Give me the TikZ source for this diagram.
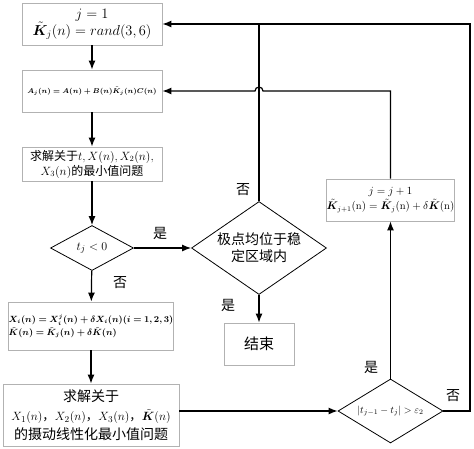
\documentclass[tikz,border=0pt]{standalone}
\usepackage{amsmath}
\usepackage{bm}
\usepackage{fontspec}
\newfontfamily\cjk{Noto Sans CJK SC}
\usetikzlibrary{shapes.geometric, arrows.meta, calc}

\tikzset{
  box/.style={draw=gray!60, line width=0.8pt, inner sep=0pt, align=center},
  decision/.style={diamond, draw=black, line width=0.8pt, inner sep=0pt, align=center},
  flow/.style={line width=1.2pt, -{Latex[length=9pt,width=7pt]}},
  link/.style={line width=1.2pt},
  tag/.style={font=\fontsize{14}{16}\selectfont\cjk}
}

\begin{document}
\begin{tikzpicture}[x=1pt, y=-1pt]
\useasboundingbox (0,0) rectangle (474,448);

% left column
\node[box, minimum width=140pt, minimum height=42pt, font=\fontsize{14.5}{16}\selectfont] (init) at (92,24) {$j = 1$\\$\tilde{\bm K}_j(n) = rand(3,6)$};
\node[box, minimum width=140pt, minimum height=42pt, font=\fontsize{7.5}{10}\selectfont] (sys) at (92,91) {$\bm{A_j(n) = A(n) + B(n)\tilde K_j(n) C(n)}$};
\node[box, minimum width=140pt, minimum height=34pt, font=\fontsize{12}{15}\selectfont] (solve) at (92,164) {{\cjk 求解关于}$t,X(n),X_2(n)$,\\$X_3(n)${\cjk 的最小值问题}};
\node[decision, minimum width=83pt, minimum height=45pt, shape aspect=1.8, font=\fontsize{13}{15}\selectfont] (tneg) at (92,248) {$t_j < 0$};
\node[box, minimum width=158pt, minimum height=48pt, align=left, font=\fontsize{9}{13}\selectfont] (perturb) at (91,326) {$\bm{X_i(n) = X_i^j(n) + \delta X_i(n)(i = 1,2,3)}$\\$\bm{\tilde K(n) = \tilde K_j(n) + \delta \tilde K(n)}$};
\node[box, minimum width=176pt, minimum height=62pt, font=\fontsize{14}{19}\selectfont] (lin) at (91,415) {{\cjk 求解关于}\\{\fontsize{12.5}{19}\selectfont$X_1(n)${\cjk ，}$X_2(n)${\cjk ，}$X_3(n)${\cjk ，}$\tilde{\bm K}(n)$}\\{\cjk 的摄动线性化最小值问题}};

% middle and right
\node[decision, minimum width=135pt, minimum height=93pt, shape aspect=1.45, font=\fontsize{14}{17}\selectfont\cjk] (pole) at (259,248) {极点均位于稳\\定区域内};
\node[box, minimum width=70pt, minimum height=42pt, font=\fontsize{15}{17}\selectfont\cjk] (stop) at (259,344) {结束};
\node[box, minimum width=127pt, minimum height=42pt, font=\fontsize{10.5}{15}\selectfont] (upd) at (390.5,200) {$j = j+1$\\$\tilde{\bm K}_{j+1}(\mathrm{n}) = \tilde{\bm K}_j(\mathrm{n}) + \delta\tilde{\bm K}(\mathrm{n})$};
\node[decision, minimum width=105pt, minimum height=64pt, shape aspect=1.6, font=\fontsize{10}{12}\selectfont] (conv) at (390.5,411) {$\left|t_{j-1} - t_j\right| > \varepsilon_2$};
\coordinate (rail) at (470,200);

% connectors
\draw[flow] (init) -- (sys);
\draw[flow] (sys) -- (solve);
\draw[flow] (solve) -- (tneg);
\draw[flow] (tneg) -- (perturb);
\draw[flow] (perturb) -- (lin);
\draw[flow] (tneg) -- (pole);
\draw[flow] (pole) -- (stop);
\draw[flow] (lin.east |- conv) -- (conv);
\draw[flow] (conv) -- (upd);
\draw[link] (pole.north) -- (pole.north |- init.east);
\draw[flow] (conv.east) -| (rail) |- (init.east);
\draw[flow] (upd.north) |- ($(pole.north |- sys.east)+(4,0)$) arc[start angle=0, end angle=180, radius=4pt] -- (sys.east);

% labels
\node[tag] (yes1) at (160,233) {是};
\node[tag] (no1) at (120,283) {否};
\node[tag] (no2) at (243,190) {否};
\node[tag] (yes2) at (228,305) {是};
\node[tag] (yes3) at (371,367) {是};
\node[tag] (no3) at (453,396) {否};
\end{tikzpicture}
\end{document}
